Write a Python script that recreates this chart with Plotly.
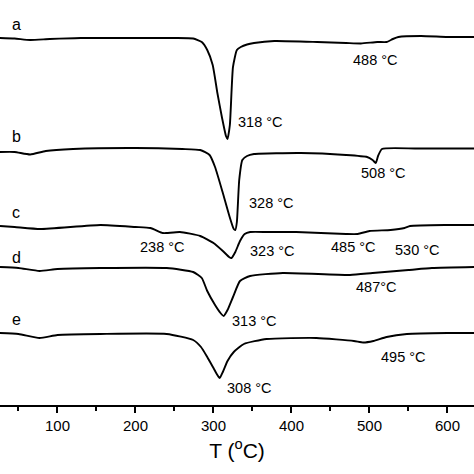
import plotly.graph_objs as go

# DTA traces a-e, temperature in degC, signal in arbitrary units (offset per trace)
t_a = [26.3, 45, 65, 90, 130, 200, 250, 274, 285, 292, 299, 305, 311, 316, 318, 321, 325, 330, 335, 343, 352, 378, 433, 470, 489, 510, 522, 530, 537, 566, 600, 634]
y_a = [-38, -38.5, -40, -39, -38, -38, -38, -38.5, -42, -50, -65, -93, -118, -136, -139, -125, -67, -50, -47, -44.5, -43, -41, -42, -43, -43.5, -42, -42, -39, -37, -36, -37, -37]

t_b = [26.3, 45, 65, 85, 120, 200, 260, 283, 295, 302, 312, 320, 326, 328, 330, 333, 337, 343, 352, 412, 470, 497, 504, 508, 511, 516, 560, 634]
y_b = [-152, -152, -154.5, -151, -149, -148, -149, -150, -155, -167, -193, -215, -229, -230, -222, -180, -160, -156, -154, -153, -155, -157, -160, -163, -156, -149, -148.5, -148.5]

t_c = [26.3, 45, 78, 155, 200, 219, 235, 240, 257, 283, 300, 312, 320, 323, 328, 334, 340, 347, 370, 406, 470, 485, 500, 527, 545, 552, 600, 634]
y_c = [-226, -227, -229, -225, -227, -228, -233, -233, -232, -236, -243, -251, -257, -258, -252, -241, -234, -232, -232, -232, -234, -234, -231, -230, -228, -226, -225, -225]

t_d = [26.3, 50, 77, 100, 155, 240, 274, 285, 292, 302, 309, 313, 318, 325, 334, 347, 389, 475, 504, 550, 580, 634]
y_d = [-267, -268, -271, -269, -268, -268, -272, -278, -291, -305, -313, -316, -310, -297, -281, -276, -273, -275, -273, -270, -268, -267]

t_e = [26.3, 50, 77, 100, 155, 240, 274, 284, 292, 300, 305, 308, 312, 318, 326, 339, 368, 432, 480, 492, 505, 522, 548, 600, 634]
y_e = [-333, -334, -338, -335, -334, -334, -340, -347, -357, -368, -375, -378, -372, -361, -352, -344, -339, -338, -341, -342.5, -341, -337, -334, -333, -333]

curve_names = ["a", "b", "c", "d", "e"]
curve_name_y = [-24, -136, -212, -257, -319]

# peak labels: text, temperature, signal, anchor
peak_text = ["318 °C", "488 °C", "328 °C", "508 °C", "238 °C", "323 °C", "485 °C", "530 °C", "487°C", "313 °C", "495 °C", "308 °C"]
peak_t = [328.8, 508, 343, 518.6, 235, 344, 479, 561, 508, 321, 544, 315]
peak_y = [-122, -60, -203, -173, -247, -251, -247, -250, -287, -321, -357, -388]
peak_anchor = ["left", "center", "left", "center", "center", "left", "center", "center", "center", "left", "center", "left"]

font_family = "Liberation Sans, Arial, sans-serif"

fig = go.Figure()
for t, y in [(t_a, y_a), (t_b, y_b), (t_c, y_c), (t_d, y_d), (t_e, y_e)]:
    fig.add_trace(go.Scatter(x=t, y=y, mode="lines",
                             line=dict(color="black", width=1.9, shape="spline", smoothing=0.5),
                             showlegend=False, hoverinfo="skip"))

annotations = []
for name, y in zip(curve_names, curve_name_y):
    annotations.append(dict(x=47, y=y, text=name, showarrow=False,
                            font=dict(size=16, color="black", family=font_family)))
for txt, t, y, anc in zip(peak_text, peak_t, peak_y, peak_anchor):
    annotations.append(dict(x=t, y=y, text=txt, showarrow=False, xanchor=anc,
                            font=dict(size=14.5, color="black", family=font_family)))

fig.update_layout(
    width=474, height=474,
    margin=dict(l=0, r=0, t=0, b=69),
    plot_bgcolor="white",
    paper_bgcolor="white",
    annotations=annotations,
    xaxis=dict(
        range=[26.3, 634], dtick=100, tick0=0,
        showline=True, linecolor="black", linewidth=2,
        ticks="outside", ticklen=6, tickwidth=2, tickcolor="black",
        minor=dict(ticks="outside", ticklen=4, tickwidth=2, tickcolor="black", dtick=50),
        showgrid=False, zeroline=False,
        tickfont=dict(size=15, color="black", family=font_family),
        title=dict(text="T (<sup>o</sup>C)", standoff=10,
                   font=dict(size=21, color="black", family=font_family)),
    ),
    yaxis=dict(range=[-405, 0], visible=False, showgrid=False, zeroline=False),
)

# drop the page's default body margin so the figure sits at the window corner
fig.write_html("out.html", config={"displayModeBar": False},
               post_script="document.body.style.margin='0';")
